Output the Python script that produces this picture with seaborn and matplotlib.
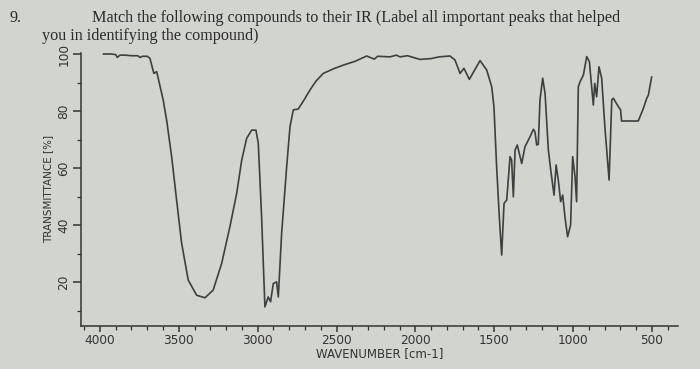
import numpy as np
import pandas as pd
import matplotlib
matplotlib.use("Agg")
import matplotlib.pyplot as plt
from matplotlib.ticker import MultipleLocator
import seaborn as sns

wavenumber = [3979, 3930, 3900, 3890, 3873, 3840, 3800, 3760, 3746, 3730, 3700, 3683,
              3658, 3640, 3599, 3577, 3545, 3514, 3482, 3440, 3387, 3334, 3282, 3228,
              3176, 3133, 3101, 3070, 3038, 3011, 2996, 2975, 2954, 2933, 2918, 2901,
              2880, 2869, 2848, 2816, 2795, 2774, 2743, 2710, 2668, 2630, 2584, 2520,
              2457, 2380, 2309, 2260, 2240, 2161, 2120, 2098, 2050, 1971, 1900, 1850,
              1781, 1749, 1717, 1692, 1658, 1590, 1548, 1516, 1502, 1485, 1468, 1453,
              1438, 1421, 1400, 1390, 1379, 1368, 1354, 1326, 1305, 1273, 1252, 1242,
              1231, 1221, 1210, 1193, 1178, 1157, 1142, 1121, 1108, 1094, 1079, 1066,
              1052, 1035, 1016, 1003, 988, 978, 967, 956, 935, 914, 897, 872, 863, 851,
              836, 819, 798, 772, 755, 745, 713, 699, 693, 587, 555, 533, 523, 502]
transmittance = [100, 100, 99.8, 98.8, 99.6, 99.6, 99.4, 99.4, 98.8, 99.2, 99.2, 98.5,
                 93.2, 93.8, 83.9, 76.8, 63.9, 48.8, 33.6, 20.7, 15.4, 14.5, 17.2, 26.6,
                 39.4, 51.1, 62.8, 70.4, 73.3, 73.3, 68.7, 42.9, 11.3, 14.8, 13.1, 19.5,
                 20.1, 14.8, 37.1, 60.5, 74.5, 80.4, 80.7, 83.5, 87.4, 90.5, 93.2, 94.8,
                 96.1, 97.5, 99.3, 98.2, 99.2, 99, 99.6, 99, 99.4, 98.1, 98.4, 99.0,
                 99.3, 97.9, 93.2, 95, 91.1, 97.7, 94.4, 88.5, 81.5, 60.5, 42.9, 29.5,
                 47.6, 48.8, 64, 62.8, 49.9, 66.3, 68.1, 61.6, 67.5, 71, 73.6, 72.7,
                 68.1, 68.3, 83.9, 91.5, 86.2, 66.3, 59.3, 50.5, 61.1, 55.8, 48.2, 50.5,
                 42.9, 35.9, 40, 64, 57, 48.2, 88.5, 90.3, 92.6, 99.1, 97.3, 82.1, 89.7, 85,
                 95.5, 91.5, 73.9, 55.8, 83.9, 84.5, 81.5, 80.4, 76.5, 76.5, 80.9, 84.5, 85.6, 92]

x_ticks = [4000, 3500, 3000, 2500, 2000, 1500, 1000, 500]
y_ticks = [20, 40, 60, 80, 100]

df = pd.DataFrame({"wavenumber": wavenumber, "transmittance": transmittance})

bg = "#d2d4d0"
sns.set_style("ticks")
plt.rcParams["font.family"] = ["DejaVu Sans"]

fig = plt.figure(figsize=(7.0, 3.69), dpi=100, facecolor=bg)
ax = fig.add_axes([0.1157, 0.1165, 0.8529, 0.741])
ax.set_facecolor(bg)

sns.lineplot(data=df, x="wavenumber", y="transmittance", ax=ax,
             color="#3f3f3f", linewidth=1.2, sort=False)

ax.set_xlim(4120, 335)
ax.set_ylim(4.6, 100.5)
ax.set_xticks(x_ticks)
ax.set_yticks(y_ticks)
ax.xaxis.set_minor_locator(MultipleLocator(100))
ax.yaxis.set_minor_locator(MultipleLocator(10))
for s in ["top", "right"]:
    ax.spines[s].set_visible(False)
for s in ["left", "bottom"]:
    ax.spines[s].set_color("#333333")
    ax.spines[s].set_linewidth(1.1)
ax.tick_params(axis="x", which="major", direction="out", length=4.5, width=1.1,
               color="#333333", labelsize=8.7, labelcolor="#333333", pad=1)
ax.tick_params(axis="y", which="major", direction="out", length=6, width=1.1,
               color="#333333", labelsize=8.7, labelcolor="#333333", pad=1.5)
ax.tick_params(axis="both", which="minor", direction="out", length=3, width=0.9,
               color="#333333")
for lab in ax.get_yticklabels():
    lab.set_rotation(90)
    lab.set_va("center")
ax.set_xlabel("WAVENUMBER [cm-1]", fontsize=8.5, color="#333333", labelpad=0)
ax.set_ylabel("TRANSMITTANCE [%]", fontsize=7.5, color="#333333", labelpad=3)

fig.text(10 / 700, 1 - 18 / 369, "9.", family=["Liberation Serif"], fontsize=11.6,
         color="#2a2a2a", va="center")
fig.text(92 / 700, 1 - 18 / 369,
         "Match the following compounds to their IR (Label all important peaks that helped",
         family=["Liberation Serif"], fontsize=11.6, color="#2a2a2a", va="center")
fig.text(42 / 700, 1 - 36 / 369, "you in identifying the compound)",
         family=["Liberation Serif"], fontsize=11.6, color="#2a2a2a", va="center")

fig.savefig("out.png", dpi=100, facecolor=bg)
